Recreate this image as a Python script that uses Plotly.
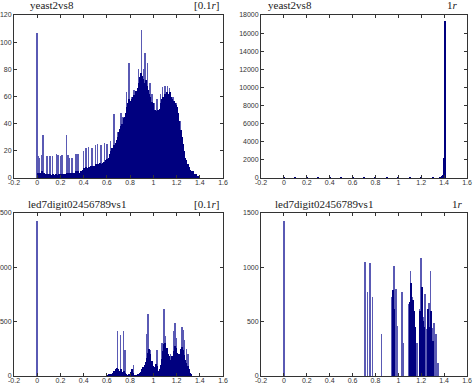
import plotly.graph_objects as go

# ---------------- data ----------------
tick_vals_x = [-0.2, 0, 0.2, 0.4, 0.6, 0.8, 1.0, 1.2, 1.4, 1.6]
tick_text_x = ["-0.2", "0", "0.2", "0.4", "0.6", "0.8", "1", "1.2", "1.4", "1.6"]

titles_left = ["yeast2vs8", "led7digit02456789vs1"]
titles_right = ["[0.1<i>r</i>]", "1<i>r</i>"]

# top-left: yeast2vs8, 0.1r  (0.01-wide bins starting at 0.00)
tl_base_start = 0.0
tl_base = [4, 3, 4, 3, 5, 4, 3, 3, 3, 2,
           3, 3, 2, 3, 2, 2, 3, 2, 3, 2,
           3, 3, 3, 3, 3, 4, 3, 4, 3, 4,
           4, 4, 4, 5, 4, 5, 4, 5, 5, 6,
           7, 7, 8, 7, 8, 8, 9, 8, 9, 9,
           10, 9, 10, 10, 11, 10, 11, 12, 12, 13,
           14, 15, 18, 20, 22, 22, 24, 26, 28, 30,
           34, 36, 38, 40, 44, 45, 48, 52, 55, 58,
           57, 58, 60, 61, 60, 64, 66, 70, 74, 77,
           75, 73, 70, 72, 68, 65, 62, 60, 56, 55,
           50, 50, 49, 48, 50, 51, 55, 58, 60, 60,
           62, 63, 62, 60, 63, 60, 58, 57, 55, 54,
           52, 48, 42, 35, 30, 25, 20, 15, 13, 10,
           8, 6, 5, 4, 5, 3, 3, 1, 1, 0]
tl_spike_x = [0.0, 0.005, 0.015, 0.035, 0.05, 0.055, 0.085, 0.11, 0.13, 0.165,
              0.18, 0.2, 0.215, 0.25, 0.265, 0.28, 0.3, 0.335, 0.35, 0.4,
              0.42, 0.44, 0.47, 0.5, 0.52, 0.55, 0.58, 0.6, 0.63, 0.66,
              0.69, 0.72, 0.74, 0.77, 0.79, 0.815, 0.835, 0.87, 0.9, 0.915,
              0.93, 0.95, 0.97, 0.99, 1.01, 1.03, 1.06, 1.08, 1.1, 1.12,
              1.14, 1.17, 1.2, 1.23]
tl_spike_y = [107, 16, 15, 17, 32, 17, 16, 16, 16, 18,
              17, 16, 17, 32, 17, 15, 15, 18, 18, 20,
              22, 23, 22, 24, 25, 24, 26, 25, 27, 47,
              34, 48, 45, 63, 85, 60, 65, 80, 109, 80,
              92, 85, 70, 62, 55, 58, 62, 67, 68, 68,
              66, 60, 55, 42]

# top-right: yeast2vs8, 1r
tr_x = [0.0, 0.1, 0.2, 0.3, 0.4, 0.5, 0.6, 0.7, 0.8, 0.9, 1.0, 1.1, 1.2, 1.3,
        1.36, 1.37, 1.38, 1.39, 1.40, 1.41]
tr_y = [60, 40, 40, 40, 50, 50, 60, 60, 70, 70, 70, 70, 70, 80,
        40, 60, 120, 300, 2200, 17300]

# bottom-left: led7digit02456789vs1, 0.1r (0.01-wide bins starting at 0.60)
bl_base_start = 0.60
bl_base = [5, 10, 8, 15, 20, 30, 50, 60, 70, 60,
           40, 50, 60, 40, 50, 30, 10, 0, 5, 20,
           40, 60, 30, 5, 0, 5, 10, 20, 30, 40,
           60, 80, 100, 130, 170, 210, 250, 200, 140, 90,
           60, 80, 110, 90, 50, 60, 100, 160, 230, 290,
           300, 260, 200, 180, 150, 130, 180, 230, 280, 260,
           210, 170, 200, 250, 270, 240, 190, 150, 120, 90,
           60, 30, 10]
bl_spike_x = [0.0, 0.69, 0.715, 0.745, 0.755, 0.83, 0.945, 0.955, 0.975, 1.03,
              1.075, 1.09, 1.1, 1.12, 1.15, 1.175, 1.185, 1.2, 1.225, 1.245,
              1.255, 1.27, 1.285, 1.3]
bl_spike_y = [1430, 410, 380, 410, 240, 100, 390, 570, 240, 240,
              300, 620, 370, 250, 200, 410, 490, 350, 200, 450,
              420, 330, 250, 200]

# bottom-right: led7digit02456789vs1, 1r
br_thin_x = [0.0, 0.71, 0.73, 0.754, 0.774, 0.852, 0.942, 0.962, 0.98, 0.99,
             1.026, 1.032, 1.043, 1.093, 1.107, 1.12, 1.15, 1.165, 1.186, 1.197,
             1.217, 1.232, 1.246, 1.267, 1.281, 1.296, 1.31, 1.33, 1.345]
br_thin_y = [1430, 1045, 775, 1040, 730, 390, 730, 1010, 800, 460,
             305, 770, 300, 660, 970, 730, 430, 300, 620, 1085,
             540, 755, 430, 675, 970, 440, 490, 385, 120]
br_thick_x = [0.955, 0.965, 1.1, 1.11, 1.125, 1.135, 1.145, 1.19, 1.205, 1.215,
              1.225, 1.255, 1.265, 1.285, 1.3]
br_thick_y = [790, 620, 680, 860, 700, 600, 450, 600, 820, 510,
              450, 620, 450, 600, 320]

# ---------------- figure ----------------
W, H = 474, 384
NAVY = "#00007f"
LIGHT = "#5a5ab4"

def px_x(p):
    return p / W

def px_y(p):
    return 1 - p / H

cols = [(14, 223), (261, 467)]
rows = [(15, 178), (213, 376)]

fig = go.Figure()

def axis_names(i):
    return ("x" if i == 0 else f"x{i+1}"), ("y" if i == 0 else f"y{i+1}")

panels = [(0, 0), (0, 1), (1, 0), (1, 1)]
yranges = [[0, 120], [0, 18000], [0, 1500], [0, 1500]]
ydticks = [20, 2000, 500, 500]

def centers(start, n):
    return [round(start + 0.005 + 0.01 * k, 4) for k in range(n)]

# panel 0
fig.add_trace(go.Bar(x=tl_spike_x, y=tl_spike_y, width=0.004, marker=dict(color=LIGHT, line=dict(width=0)), xaxis="x", yaxis="y"))
fig.add_trace(go.Bar(x=centers(tl_base_start, len(tl_base)), y=tl_base, width=0.01, marker=dict(color=NAVY, line=dict(width=0)), xaxis="x", yaxis="y"))
# panel 1
fig.add_trace(go.Bar(x=tr_x, y=tr_y, width=0.008, marker=dict(color=NAVY, line=dict(width=0)), xaxis="x2", yaxis="y2"))
# panel 2
fig.add_trace(go.Bar(x=bl_spike_x, y=bl_spike_y, width=0.004, marker=dict(color=LIGHT, line=dict(width=0)), xaxis="x3", yaxis="y3"))
fig.add_trace(go.Bar(x=centers(bl_base_start, len(bl_base)), y=bl_base, width=0.01, marker=dict(color=NAVY, line=dict(width=0)), xaxis="x3", yaxis="y3"))
# panel 3
fig.add_trace(go.Bar(x=br_thin_x, y=br_thin_y, width=0.004, marker=dict(color=LIGHT, line=dict(width=0)), xaxis="x4", yaxis="y4"))
fig.add_trace(go.Bar(x=br_thick_x, y=br_thick_y, width=0.009, marker=dict(color=NAVY, line=dict(width=0)), xaxis="x4", yaxis="y4"))

layout = dict(
    width=W, height=H, margin=dict(l=0, r=0, t=0, b=0, autoexpand=False),
    paper_bgcolor="white", plot_bgcolor="white",
    showlegend=False, barmode="overlay", bargap=0, hovermode=False,
)
tickfont = dict(family="Liberation Sans, Arial, sans-serif", size=7, color="#333333")
for i, (r, c) in enumerate(panels):
    xn, yn = axis_names(i)
    xk = "xaxis" if i == 0 else f"xaxis{i+1}"
    yk = "yaxis" if i == 0 else f"yaxis{i+1}"
    x0, x1 = cols[c]
    y0, y1 = rows[r]
    layout[xk] = dict(
        domain=[px_x(x0), px_x(x1)], anchor=yn, range=[-0.2, 1.6],
        tickvals=tick_vals_x, ticktext=tick_text_x, ticks="inside", ticklen=3,
        tickcolor="#333333", showline=True, linecolor="#333333", linewidth=1,
        mirror="ticks", showgrid=False, zeroline=False, tickfont=tickfont,
        fixedrange=True, automargin=False, ticklabelstandoff=-2,
    )
    layout[yk] = dict(
        domain=[px_y(y1), px_y(y0)], anchor=xn, range=yranges[i], dtick=ydticks[i],
        tick0=0, tickformat="d", ticks="inside", ticklen=3, tickcolor="#333333", showline=True,
        linecolor="#333333", linewidth=1, mirror="ticks", showgrid=False,
        zeroline=False, tickfont=tickfont, fixedrange=True, automargin=False,
    )
fig.update_layout(**layout)

serif = dict(family="Liberation Serif, Times New Roman, serif", size=11, color="#222222")
title_pos = [  # (left title x-center px, y px, right label x-center px)
    (52, 5, 206), (290, 5, 452), (77, 204, 206), (324, 204, 457)
]
for i, (r, c) in enumerate(panels):
    lx, ly, rx = title_pos[i]
    fig.add_annotation(text=titles_left[r], x=px_x(lx), y=px_y(ly), xref="paper", yref="paper",
                       showarrow=False, xanchor="center", yanchor="middle", font=serif)
    fig.add_annotation(text=titles_right[c], x=px_x(rx), y=px_y(ly), xref="paper", yref="paper",
                       showarrow=False, xanchor="center", yanchor="middle", font=serif)

fig.write_html("out.html", config={"displayModeBar": False, "staticPlot": False},
               post_script="document.body.style.margin='0px';document.body.style.overflow='hidden';")
